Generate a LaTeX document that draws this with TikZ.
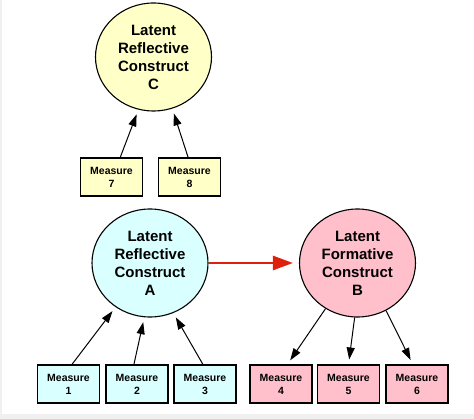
\documentclass[tikz,border=0pt]{standalone}
\usepackage{fontspec}
\setmainfont{Liberation Sans}
\usetikzlibrary{shapes.geometric,arrows.meta}
\definecolor{shadeC}{HTML}{FFFFC8}
\definecolor{shadeA}{HTML}{DAFFFF}
\definecolor{shadeB}{HTML}{FFC0CB}
\definecolor{arrowRed}{HTML}{DE200E}
\colorlet{frameGray}{gray!12}
\tikzstyle{latentNode}=[ellipse,draw=black,line width=1.1pt,minimum width=116pt,minimum height=108pt,inner sep=0pt,align=center,font=\bfseries\fontsize{15}{18}\selectfont]
\tikzstyle{measureNode}=[rectangle,draw=black,line width=1.1pt,minimum width=62pt,minimum height=38pt,inner sep=0pt,align=center,font=\bfseries\fontsize{10.5}{13}\selectfont]
\tikzstyle{shapeC}=[fill=shadeC]
\tikzstyle{shapeA}=[fill=shadeA]
\tikzstyle{shapeB}=[fill=shadeB]
\tikzstyle{loading}=[-{Triangle[length=12pt,width=8pt]},line width=1pt,shorten >=5pt]
\tikzstyle{causal}=[-{Triangle[length=20pt,width=14pt]},draw=arrowRed,line width=2.6pt,shorten >=6pt]

\begin{document}
\begin{tikzpicture}[x=1pt,y=-1pt]
\newcommand{\rowY}{384}
        \useasboundingbox (0,0) rectangle (474,419);
        \fill[frameGray] (0,0) rectangle (474,419);
        \fill[white] (2,0) rectangle (474,414);
        \node[latentNode,shapeC] (C) at (153.5,57) {Latent\\Reflective\\Construct\\C};
        \node[latentNode,shapeA] (A) at (150,263) {Latent\\Reflective\\Construct\\A};
        \node[latentNode,shapeB] (B) at (357.5,263) {Latent\\Formative\\Construct\\B};
        \node[measureNode,shapeC] (m7) at (111.5,177) {Measure\\7};
        \node[measureNode,shapeC] (m8) at (189.5,177) {Measure\\8};
        \foreach \i/\x in {1/68.5,2/137,3/205} {
                \node[measureNode,shapeA] (m\i) at (\x,\rowY) {Measure\\\i};
        }
        \foreach \i/\x in {4/281,5/348.5,6/417} {
                \node[measureNode,shapeB] (m\i) at (\x,\rowY) {Measure\\\i};
        }
        \foreach \i/\s/\t in {7/66/254,8/94/290} {
                \draw[loading] (m\i.\s) -- (C.\t);
        }
        \foreach \i/\s/\t in {1/80/232,2/99/264,3/96/295} {
                \draw[loading] (m\i.\s) -- (A.\t);
        }
        \foreach \i/\s/\t in {4/235/72,5/267/90,6/301/102} {
                \draw[loading] (B.\s) -- (m\i.\t);
        }
        \draw[causal] (A) -- (B);
\end{tikzpicture}
\end{document}
